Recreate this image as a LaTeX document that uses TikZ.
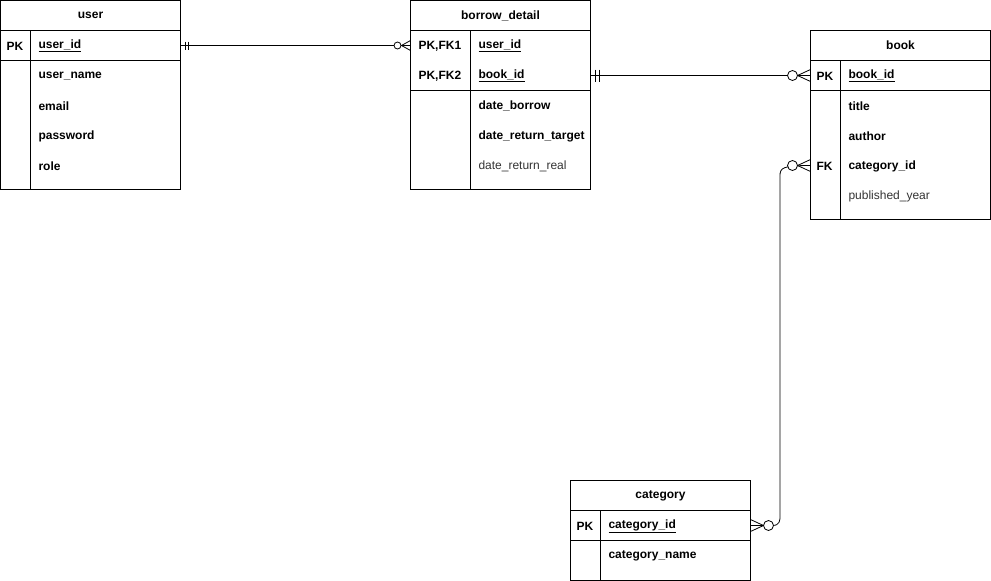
\documentclass[tikz,border=0pt]{standalone}
\usepackage{fontspec}
\setmainfont{Liberation Sans}
\begin{document}
\begin{tikzpicture}[x=1pt,y=-1pt,line width=1pt,
  txt/.style={anchor=west,inner sep=0pt,font=\fontsize{12}{14}\selectfont\bfseries},
  ntxt/.style={anchor=west,inner sep=0pt,font=\fontsize{12}{14}\selectfont,text=black!80},
  hdr/.style={inner sep=0pt,font=\fontsize{12}{14}\selectfont\bfseries}]
\useasboundingbox (0,0) rectangle (991,581);
\newcommand\tbl[7]{% x1,y1,x2,y2,divider,name,keyline
  \draw (#1,#2) rectangle (#3,#4);
  \draw (#1,#2+30) -- (#3,#2+30);
  \draw (#1,#7) -- (#3,#7);
  \draw (#5,#2+30) -- (#5,#4);
  \node[hdr] at ({(#1+#3)/2},#2+15) {#6};}
% user
\tbl{0.5}{0.5}{180.5}{189.5}{30.5}{user}{60.5}
\node[txt] at (6,46) {PK};
\node[txt] (uid) at (38,46) {\underline{user\_id}};
\node[txt] at (38,76) {user\_name};
\node[txt] at (38,106) {email};
\node[txt] at (38,136) {password};
\node[txt] at (38,166) {role};
% borrow_detail
\tbl{410.5}{0.5}{590.5}{189.5}{470.5}{borrow\_detail}{90.5}
\node[txt] at (418,46) {PK,FK1};
\node[txt] at (418,76) {PK,FK2};
\node[txt] at (478,46) {\underline{user\_id}};
\node[txt] at (478,76) {\underline{book\_id}};
\node[txt] at (478,106) {date\_borrow};
\node[txt] at (478,136) {date\_return\_target};
\node[ntxt] at (478,166) {date\_return\_real};
% book
\tbl{810.5}{30.5}{990.5}{219.5}{840.5}{book}{90.5}
\node[txt] at (816,76) {PK};
\node[txt] at (848,76) {\underline{book\_id}};
\node[txt] at (848,106) {title};
\node[txt] at (848,136) {author};
\node[txt] at (816,166) {FK};
\node[txt] at (848,166) {category\_id};
\node[ntxt] at (848,196) {published\_year};
% category
\tbl{570.5}{480.5}{750.5}{580.5}{600.5}{category}{540.5}
\node[txt] at (576,526) {PK};
\node[txt] at (608,526) {\underline{category\_id}};
\node[txt] at (608,556) {category\_name};
% connectors
\coordinate (a1) at (180.5,45.5); \coordinate (a2) at (410.5,45.5);
\coordinate (b1) at (590.5,75.5); \coordinate (b2) at (810.5,75.5);
\coordinate (c1) at (750.5,525.5); \coordinate (c2) at (810.5,165.5);
\begin{scope}[line width=0.8pt]
\draw (a1) -- (a2);
\draw ([xshift=5]a1) ++(0,-4) -- ++(0,8); \draw ([xshift=8]a1) ++(0,-4) -- ++(0,8);
\draw[fill=white] ([xshift=-13]a2) circle (3.5);
\draw ([xshift=-9]a2) -- ++(9,-5); \draw ([xshift=-9]a2) -- ++(9,5);
\draw (b1) -- (b2);
\draw ([xshift=5]b1) ++(0,-6) -- ++(0,12); \draw ([xshift=9]b1) ++(0,-6) -- ++(0,12);
\draw[fill=white] ([xshift=-18]b2) circle (5);
\draw ([xshift=-13]b2) -- ++(13,-6); \draw ([xshift=-13]b2) -- ++(13,6);
\draw (c1) -- ++(22,0) .. controls (780,525.5) and (780,520) .. (780,516) -- (780,176) .. controls (780,168) and (782,165.5) .. (c2);
\draw[fill=white] ([xshift=18]c1) circle (5);
\draw ([xshift=13]c1) -- ++(-13,-6); \draw ([xshift=13]c1) -- ++(-13,6);
\draw[fill=white] ([xshift=-18]c2) circle (5);
\draw ([xshift=-13]c2) -- ++(13,-6); \draw ([xshift=-13]c2) -- ++(13,6);
\end{scope}
\end{tikzpicture}
\end{document}
